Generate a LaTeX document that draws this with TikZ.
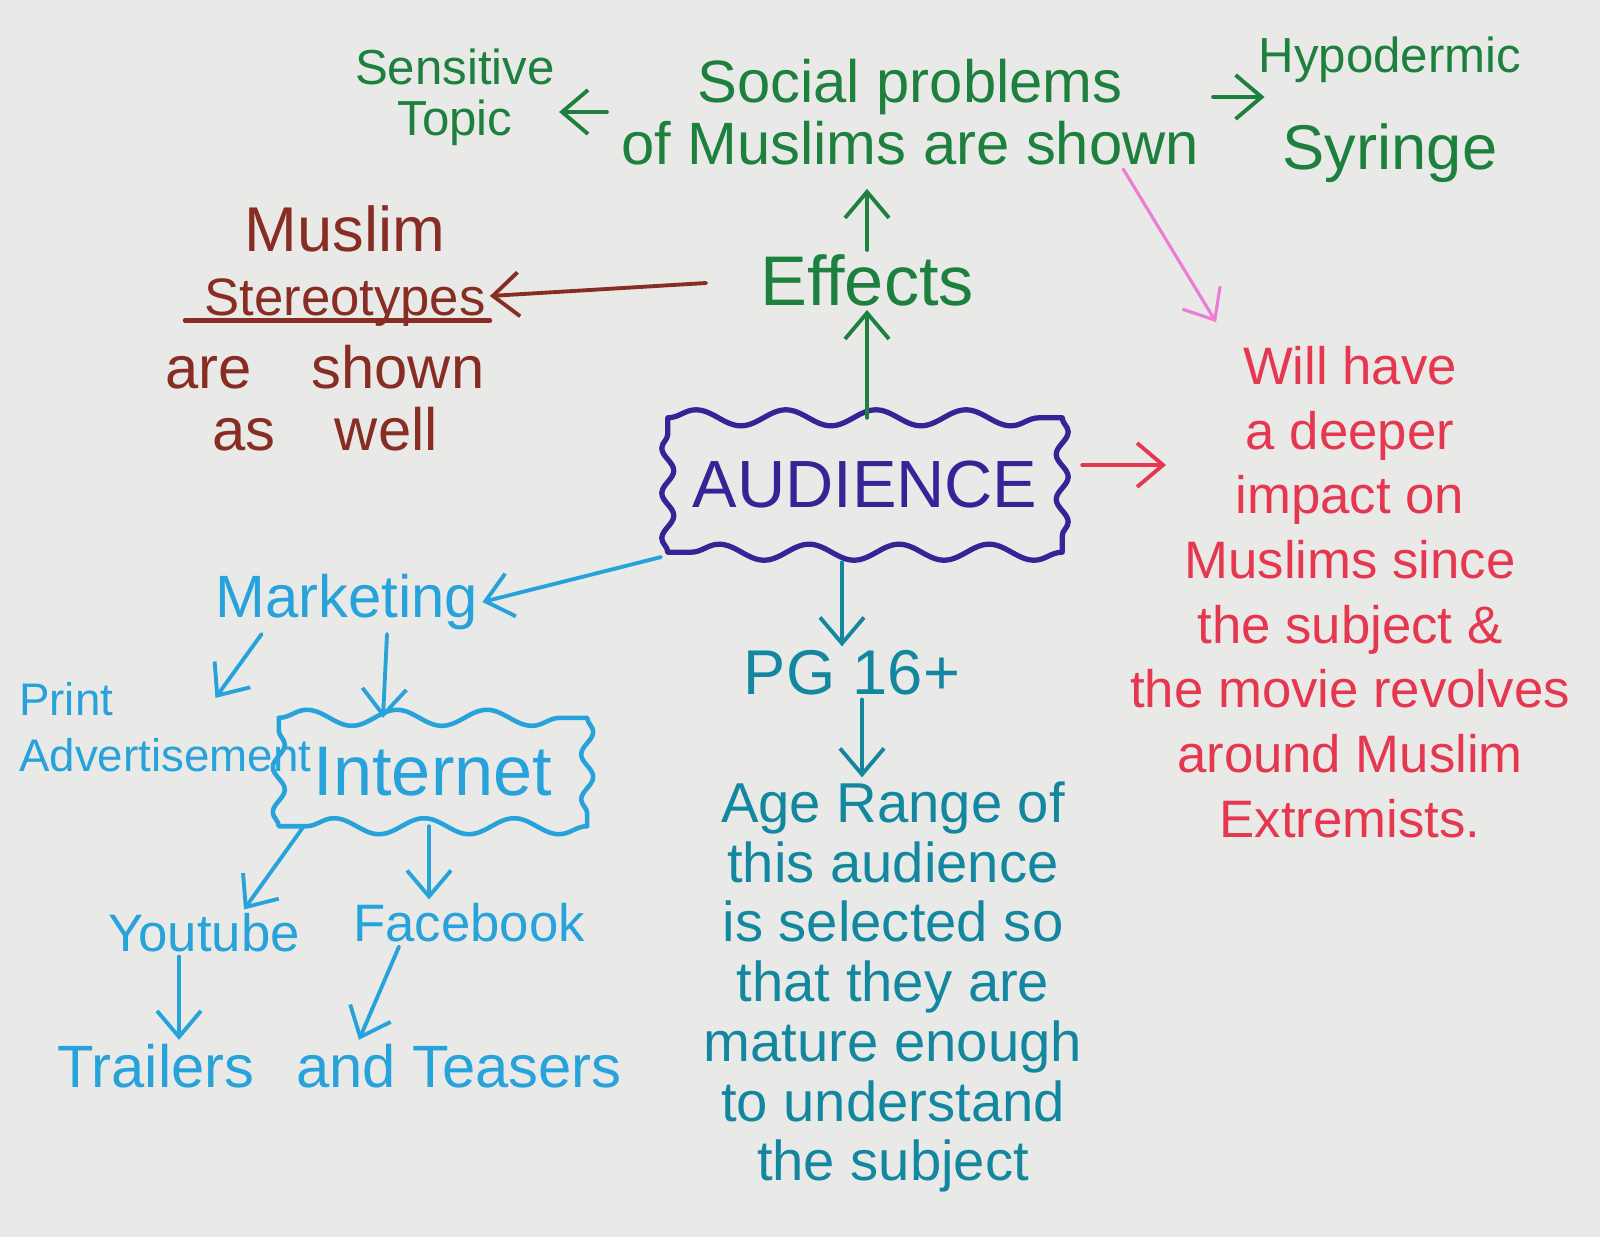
\documentclass[tikz,border=0pt]{standalone}
\usepackage{fontspec}
\setmainfont{Liberation Sans}
\usetikzlibrary{arrows.meta,decorations.pathmorphing}

\begin{document}
\begin{tikzpicture}[x=1cm, y=1cm, line cap=round, line join=round,
  txt/.style={align=center, inner sep=1pt},
  arr/.style={-{Straight Barb[length=2.6mm,width=4.4mm]}, line width=1.1pt},
  wavyh/.style={decoration={snake, segment length=9mm, amplitude=0.8mm}},
  wavyv/.style={decoration={snake, segment length=4.5mm, amplitude=0.6mm}}]
% Mind map exported by hand: film audience
\definecolor{mapPaper}{RGB}{233,234,231}
\definecolor{mapGreen}{RGB}{30,128,62}
\definecolor{mapBrown}{RGB}{135,45,35}
\definecolor{mapPurple}{RGB}{55,35,150}
\definecolor{mapBlue}{RGB}{40,162,218}
\definecolor{mapTeal}{RGB}{20,135,160}
\definecolor{mapRed}{RGB}{230,55,80}
\definecolor{mapPink}{RGB}{235,125,215}
% Paper
\fill[mapPaper] (0,0) rectangle (16,12.37);
\useasboundingbox (0,0) rectangle (16,12.37);
% Centre
\node[txt, text=mapPurple, font=\fontsize{19}{20}\selectfont,
  minimum width=3.93cm, minimum height=1.33cm] (audience) at (8.65,7.52) {AUDIENCE};
\draw[mapPurple, line width=1.5pt]
  (audience.north west) decorate[wavyh]{-- (audience.north east)}
  decorate[wavyv]{-- (audience.south east)}
  decorate[wavyh]{-- (audience.south west)}
  decorate[wavyv]{-- (audience.north west)};
% Effects branch (green)
\begin{scope}[text=mapGreen, draw=mapGreen]
  \node[txt, font=\fontsize{20}{21}\selectfont] (effects) at (8.67,9.57) {Effects};
  \node[txt, font=\fontsize{17}{17.5}\selectfont] (social) at (9.10,11.25) {Social problems\\of Muslims are shown};
  \node[txt, font=\fontsize{14}{14.5}\selectfont] (sensitive) at (4.55,11.40) {Sensitive\\Topic};
  \node[txt, font=\fontsize{14}{22}\selectfont] (hypo) at (13.90,11.27) {Hypodermic\\[2mm]{\fontsize{18}{19}\selectfont Syringe}};
  \draw[arr] (audience.north -| effects) -- (effects.south);
  \draw[arr, shorten >=2mm] (effects.north) -- (effects.north |- social.south);
  \draw[arr, shorten <=1mm] (social.west) -- (social.west -| sensitive.east);
  \draw[arr, shorten <=1mm, shorten >=-1mm] ([yshift=1.5mm]social.east) -- ([yshift=1.5mm]social.east -| hypo.west);
\end{scope}
% Stereotypes (brown)
\begin{scope}[text=mapBrown, draw=mapBrown]
  \node[txt, font=\fontsize{15}{18}\selectfont] (stereo) at (3.45,9.71) {{\fontsize{18}{19}\selectfont Muslim}\\Stereotypes};
  \node[txt, font=\fontsize{17}{17.5}\selectfont] (shownwell) at (3.25,8.39) {are\quad shown\\as\quad well};
  \draw[line width=1.3pt] ([xshift=-1.5mm,yshift=1mm]stereo.south west) -- ([yshift=1mm]stereo.south east);
  \draw[arr, shorten <=5mm] (effects.west) -- ([yshift=-3mm]stereo.east);
\end{scope}
% Impact (red)
\node[txt, text=mapRed, font=\fontsize{15}{18.4}\selectfont] (impact) at (13.50,6.45)
  {Will have\\a deeper\\impact on\\Muslims since\\the subject \&\\the movie revolves\\around Muslim\\Extremists.};
\draw[arr, draw=mapRed, shorten <=2mm, shorten >=-4mm] ([yshift=2mm]audience.east) -- ([yshift=2mm]audience.east -| impact.west);
\draw[arr, draw=mapPink, line width=0.9pt] ([xshift=-8mm]social.south east) -- ([xshift=9mm,yshift=2mm]impact.north west);
% Rating (teal)
\begin{scope}[text=mapTeal, draw=mapTeal]
  \node[txt, font=\fontsize{18}{19}\selectfont] (pg) at (8.52,5.64) {PG 16+};
  \node[txt, font=\fontsize{16}{17}\selectfont] (agerange) at (8.93,2.50)
    {Age Range of\\this audience\\is selected so\\that they are\\mature enough\\to understand\\the subject};
  \draw[arr, shorten <=1mm] ([xshift=-1mm]pg.north |- audience.south) -- ([xshift=-1mm]pg.north);
  \draw[arr] ([xshift=1mm]pg.south) -- ([xshift=1mm]pg.south |- agerange.north);
\end{scope}
% Marketing (light blue)
\begin{scope}[text=mapBlue, draw=mapBlue]
  \node[txt, font=\fontsize{17}{18}\selectfont] (marketing) at (3.47,6.35) {Marketing};
  \node[txt, align=left, anchor=west, font=\fontsize{13}{16}\selectfont] (print) at (0.15,5.10) {Print\\Advertisement};
  \node[txt, font=\fontsize{20}{21}\selectfont,
    minimum width=3.07cm, minimum height=1.07cm] (internet) at (4.33,4.65) {Internet};
  \draw[line width=1.3pt]
    (internet.north west) decorate[wavyh]{-- (internet.north east)}
    decorate[wavyv]{-- (internet.south east)}
    decorate[wavyh]{-- (internet.south west)}
    decorate[wavyv]{-- (internet.north west)};
  \node[txt, font=\fontsize{15}{16}\selectfont] (youtube) at (2.04,3.04) {Youtube};
  \node[txt, font=\fontsize{15}{16}\selectfont] (facebook) at (4.69,3.14) {Facebook};
  \node[txt, font=\fontsize{17}{18}\selectfont] (trailers) at (1.56,1.71) {Trailers};
  \node[txt, font=\fontsize{17}{18}\selectfont] (teasers) at (4.59,1.71) {and Teasers};
  \draw[arr, shorten <=2mm] (audience.200) -- (marketing.east);
  \draw[arr] ([xshift=5mm]marketing.south west) -- ([xshift=-10mm,yshift=-2mm]print.north east);
  \draw[arr] ([xshift=4mm]marketing.south) -- ([xshift=-5mm]internet.north);
  \draw[arr] ([xshift=2.5mm]internet.south west) -- ([xshift=4mm]youtube.north);
  \draw[arr] ([xshift=-4mm]internet.south -| facebook) -- ([xshift=-4mm]facebook.north);
  \draw[arr] ([xshift=-2.5mm]youtube.south) -- ([xshift=-2.5mm]youtube.south |- trailers.north);
  \draw[arr] ([xshift=-7mm]facebook.south) -- ([xshift=-10mm]teasers.north);
\end{scope}
\end{tikzpicture}
\end{document}
